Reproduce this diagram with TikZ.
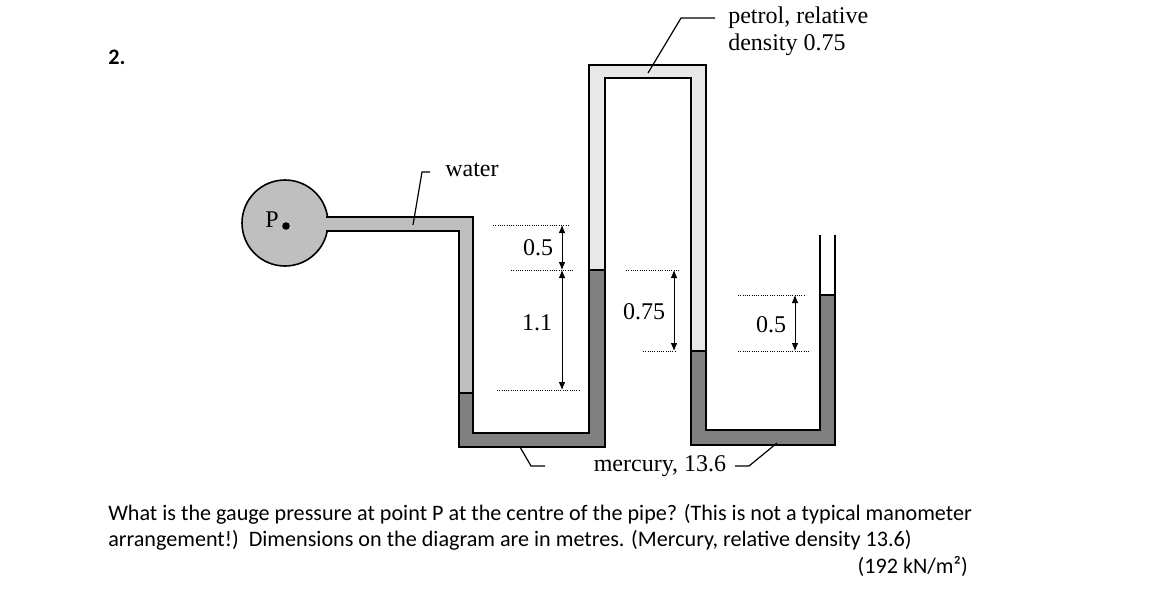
\documentclass[tikz,border=0pt]{standalone}
\usepackage{fontspec}
\setmainfont{Liberation Serif}
\newfontfamily\qfont{Carlito}
\usetikzlibrary{arrows.meta}
\begin{document}
\begin{tikzpicture}[x=0.75pt,y=-0.75pt,
    pipe/.style={draw=black,line width=1.2pt},
    dim/.style={{Latex[length=6pt,width=5pt]}-{Latex[length=6pt,width=5pt]},line width=0.7pt},
    lvl/.style={densely dotted,line width=0.7pt},
    lbl/.style={font=\fontsize{18}{20}\selectfont,inner sep=0pt},
    qtxt/.style={font=\qfont\fontsize{16.6}{19}\selectfont,inner sep=0pt,anchor=west}]
\useasboundingbox (0,0) rectangle (1149,590);
\definecolor{water}{gray}{0.75}
\definecolor{petrol}{gray}{0.91}
\definecolor{mercury}{gray}{0.5}

% vessel and water
\fill[water] (285,223) circle (43);
\fill[water] (315,217) -- (473,217) -- (473,393) -- (459,393) -- (459,231) -- (315,231) -- cycle;
\draw[line width=1.2pt] (285,223) circle (43);
\fill[water] (320,217.8) rectangle (335,230.2);
\draw[line width=1.2pt] (326,217) -- (473,217) -- (473,393);
\draw[line width=1.2pt] (326,231) -- (459,231) -- (459,393);
% mercury, left U
\draw[pipe,fill=mercury] (459,393) -- (473,393) -- (473,433) -- (589,433) -- (589,270)
  -- (605,270) -- (605,447) -- (459,447) -- cycle;
% petrol
\draw[pipe,fill=petrol] (589,270) -- (589,65) -- (706,65) -- (706,351) -- (691,351)
  -- (691,78) -- (605,78) -- (605,270) -- cycle;
% mercury, right U
\draw[pipe,fill=mercury] (691,351) -- (706,351) -- (706,430) -- (820,430) -- (820,295)
  -- (835,295) -- (835,445) -- (691,445) -- cycle;
\draw[line width=1.2pt] (820,295) -- (820,235);
\draw[line width=1.2pt] (835,295) -- (835,235);

\node (P) [lbl] at (272,220) {P};
\fill (286,226) circle (3.8);

% levels and dimensions
\draw[lvl] (493,225) -- (570,225);
\draw[lvl] (511,270) -- (573,270);
\draw[lvl] (497,390) -- (579,390);
\coordinate (a1) at (562,225); \coordinate (a2) at (562,270); \coordinate (a3) at (562,390);
\draw[dim] (a1) -- (a2);
\draw[dim] (a2) -- (a3);
\node (d1) [lbl] at (538,248) {0.5};
\node (d2) [lbl] at (537,323) {1.1};
\draw[lvl] (626,270) -- (679,270);
\draw[lvl] (643,351) -- (676,351);
\coordinate (b1) at (674,270); \coordinate (b2) at (674,351);
\draw[dim] (b1) -- (b2);
\node (d3) [lbl] at (644,312) {0.75};
\draw[lvl] (738,295) -- (806,295);
\draw[lvl] (738,351) -- (809,351);
\coordinate (c1) at (795,295); \coordinate (c2) at (795,351);
\draw[dim] (c1) -- (c2);
\node (d4) [lbl] at (771,325) {0.5};

% labels with leaders
\node (w) [lbl,anchor=west] at (445,170) {water};
\coordinate (w1) at (430,172); \coordinate (w2) at (422,172); \coordinate (w3) at (413,225);
\draw[line width=0.9pt] (w1) -- (w2) -- (w3);
\node (pt) [lbl,anchor=west,align=left] at (728,31) {petrol, relative\\density 0.75};
\coordinate (p1) at (715,18); \coordinate (p2) at (681,18); \coordinate (p3) at (648,73);
\draw[line width=0.9pt] (p1) -- (p2) -- (p3);
\node (m) [lbl] at (660,466) {mercury, 13.6};
\coordinate (m1) at (520,447); \coordinate (m2) at (531,466); \coordinate (m3) at (545,466);
\draw[line width=0.9pt] (m1) -- (m2) -- (m3);
\coordinate (n1) at (735,466); \coordinate (n2) at (749,466); \coordinate (n3) at (777,443);
\draw[line width=0.9pt] (n1) -- (n2) -- (n3);

% question
\node (num) [font=\qfont\bfseries\fontsize{16.6}{19}\selectfont,inner sep=0pt] at (117,57) {2.};
\node (q1) [qtxt] at (108,514) {What is the gauge pressure at point P at the centre of the pipe? (This is not a typical manometer};
\node (q2) [qtxt] at (108,540) {arrangement!)\ \ Dimensions on the diagram are in metres. (Mercury, relative density 13.6)};
\node (q3) [qtxt,anchor=east] at (968,566) {(192 kN/m²)};
\end{tikzpicture}
\end{document}
